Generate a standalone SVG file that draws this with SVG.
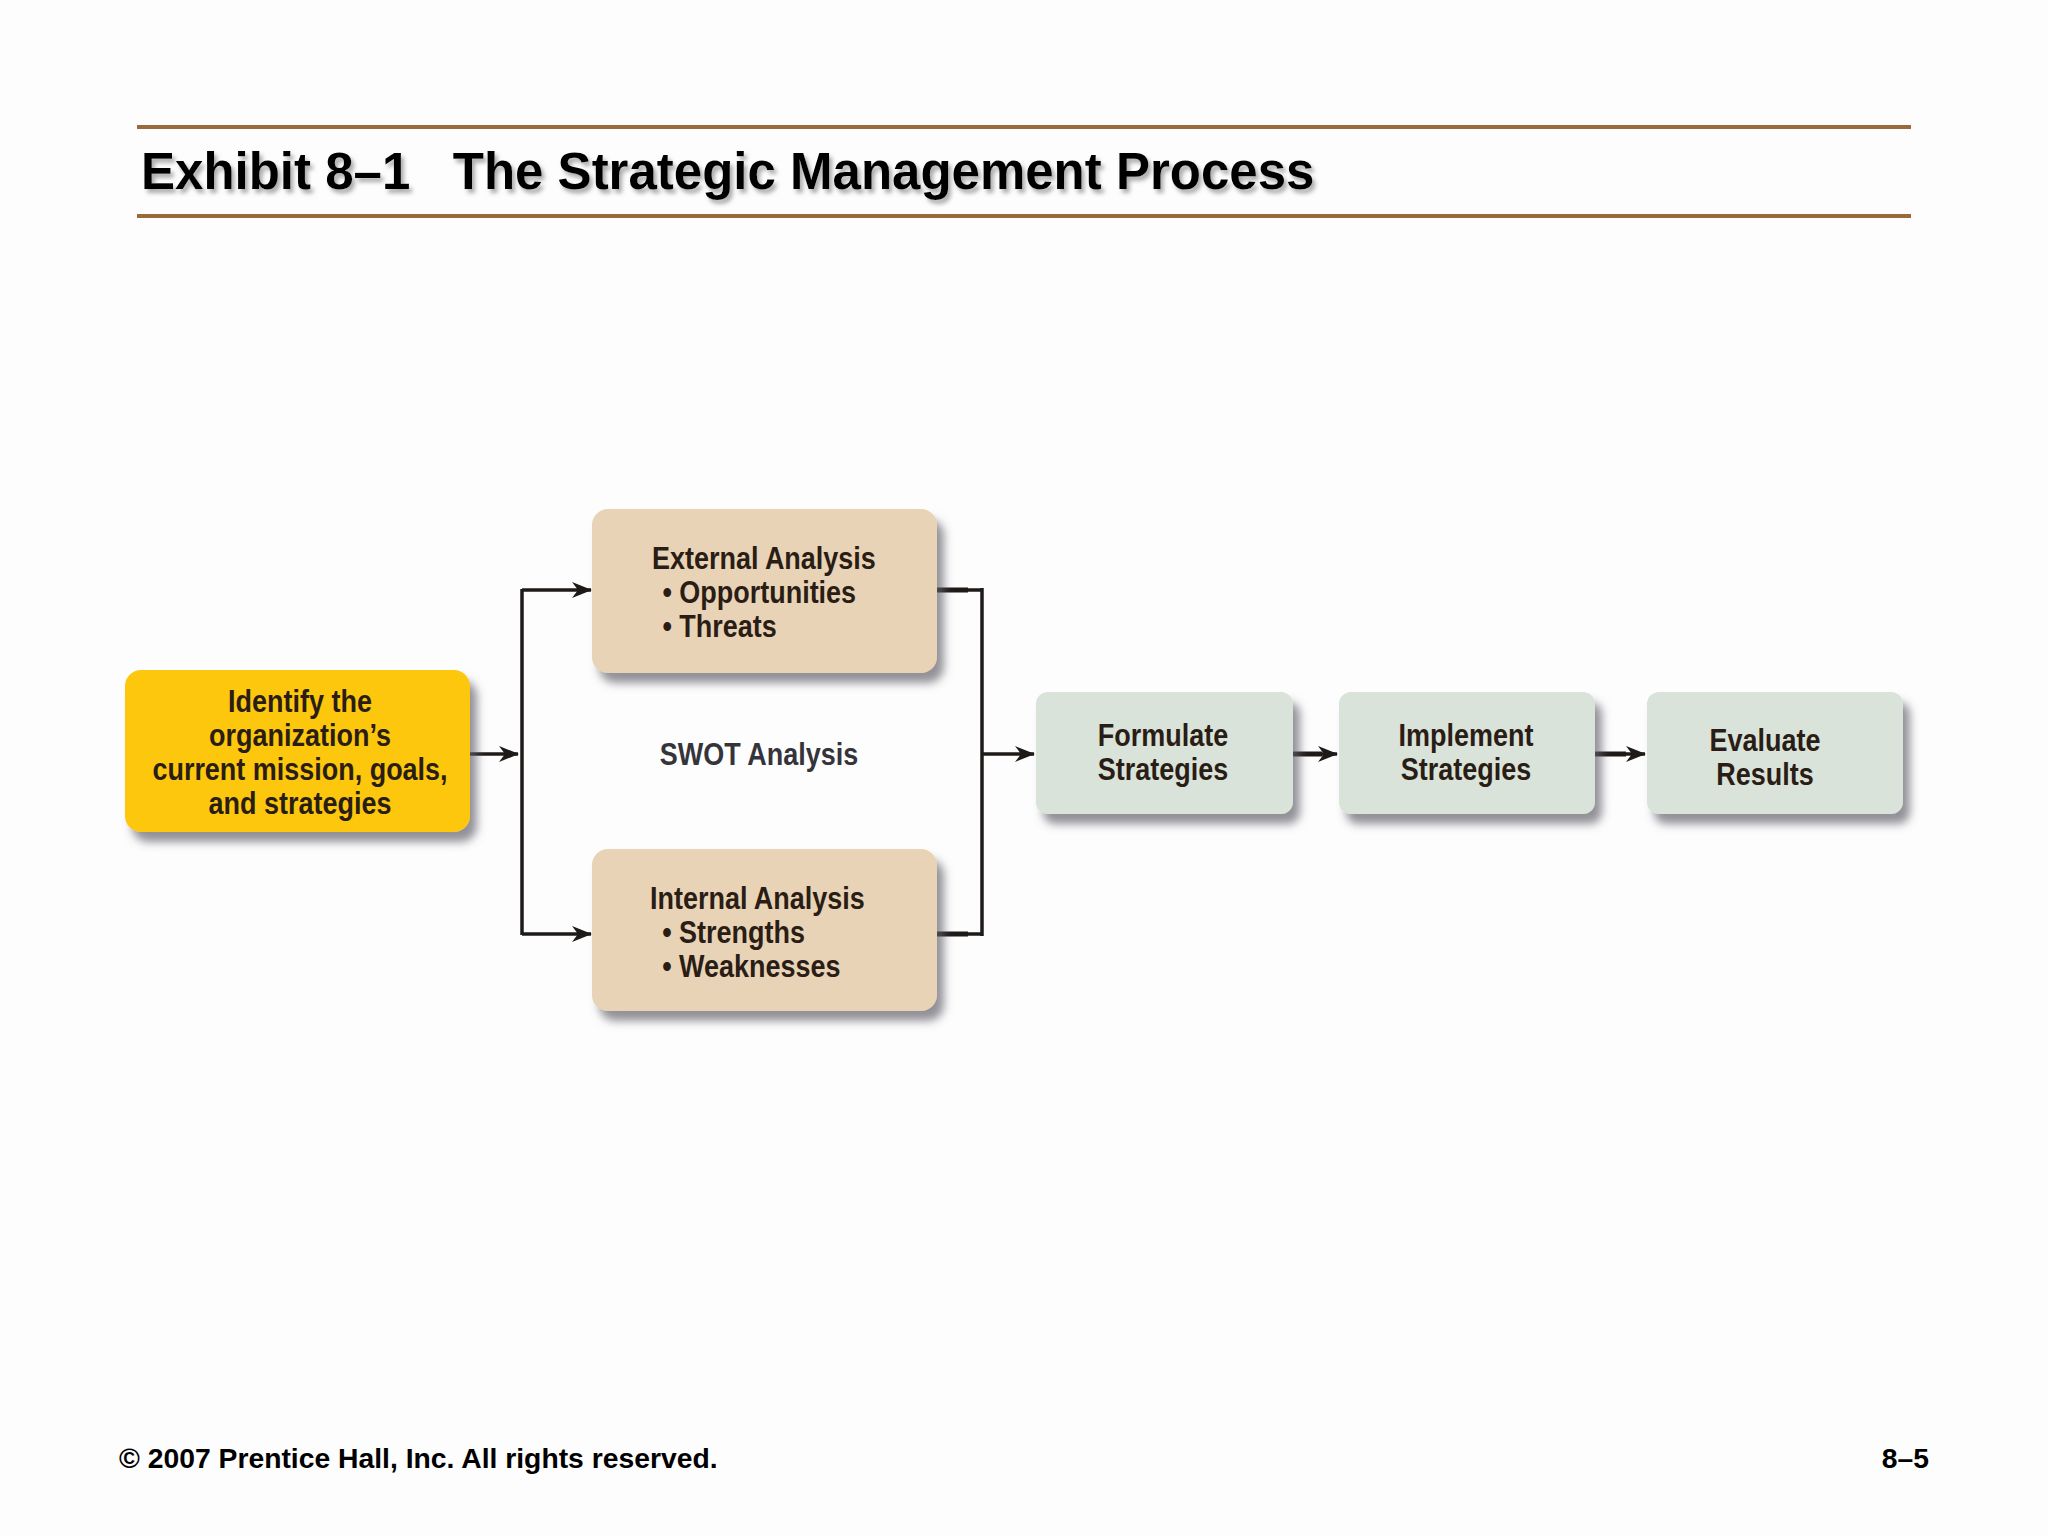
<svg xmlns="http://www.w3.org/2000/svg" width="2048" height="1536" viewBox="0 0 2048 1536">
<defs>
<filter id="shadow" x="-10%" y="-10%" width="130%" height="140%">
<feDropShadow dx="7" dy="10" stdDeviation="5" flood-color="#62626a" flood-opacity="0.7"/>
</filter>
<filter id="tshadow" x="-5%" y="-20%" width="110%" height="160%">
<feDropShadow dx="3" dy="4" stdDeviation="2" flood-color="#888" flood-opacity="0.7"/>
</filter>
<marker id="arr" viewBox="0 0 20 16" refX="19" refY="8" markerWidth="20" markerHeight="16" markerUnits="userSpaceOnUse" orient="auto">
<path d="M0,0 L20,8 L0,16 L6,8 z" fill="#1e1a18"/>
</marker>
<style>
.rule{stroke:#9b6a3a;stroke-width:4;}
.title{font-family:"Liberation Sans",Arial,sans-serif;font-weight:bold;font-size:51px;fill:#000;white-space:pre;}
.foot{font-family:"Liberation Sans",Arial,sans-serif;font-weight:bold;font-size:28.3px;fill:#000;}
.box{filter:url(#shadow);}
.yellow{fill:#fdc70e;}
.tan{fill:#e9d3b6;}
.green{fill:#d9e3d9;}
.lbl{font-family:"Liberation Sans",Arial,sans-serif;font-weight:bold;font-size:31px;fill:#2a1d15;}
.swot{font-family:"Liberation Sans",Arial,sans-serif;font-weight:bold;font-size:31px;fill:#34343a;}
.conn{fill:none;stroke:#1e1a18;stroke-width:3.5;}
.thick{fill:none;stroke:#1e1a18;stroke-width:5;}
</style>
</defs>
<rect width="2048" height="1536" fill="#fefdfe"/>

<g id="header">
<line class="rule" x1="137" y1="127" x2="1911" y2="127"/>
<line class="rule" x1="137" y1="216" x2="1911" y2="216"/>
<text class="title" x="141" y="189" filter="url(#tshadow)">Exhibit 8–1   The Strategic Management Process</text>
</g>

<g id="connectors">
<line class="conn" x1="470" y1="754" x2="518" y2="754" marker-end="url(#arr)"/>
<line class="conn" x1="522" y1="589" x2="522" y2="935"/>
<line class="conn" x1="522" y1="590" x2="591" y2="590" marker-end="url(#arr)"/>
<line class="conn" x1="522" y1="934" x2="591" y2="934" marker-end="url(#arr)"/>
<line class="thick" x1="937" y1="590" x2="968" y2="590"/>
<line class="conn" x1="966" y1="590" x2="982" y2="590"/>
<line class="thick" x1="937" y1="934" x2="968" y2="934"/>
<line class="conn" x1="966" y1="934" x2="982" y2="934"/>
<line class="conn" x1="982" y1="588" x2="982" y2="936"/>
<line class="conn" x1="982" y1="754" x2="1034" y2="754" marker-end="url(#arr)"/>
<line class="thick" x1="1293" y1="754" x2="1322" y2="754"/>
<line class="conn" x1="1316" y1="754" x2="1337" y2="754" marker-end="url(#arr)"/>
<line class="thick" x1="1595" y1="754" x2="1626" y2="754"/>
<line class="conn" x1="1620" y1="754" x2="1645" y2="754" marker-end="url(#arr)"/>
</g>

<g id="node-mission">
<rect class="box yellow" x="125" y="670" width="345" height="162" rx="16"/>
<g transform="translate(300,0) scale(0.87,1)">
<text class="lbl" text-anchor="middle" x="0" y="712">Identify the</text>
<text class="lbl" text-anchor="middle" x="0" y="746">organization’s</text>
<text class="lbl" text-anchor="middle" x="0" y="780">current mission, goals,</text>
<text class="lbl" text-anchor="middle" x="0" y="814">and strategies</text>
</g>
</g>

<g id="node-external">
<rect class="box tan" x="592" y="509" width="345" height="164" rx="16"/>
<g transform="translate(652,0) scale(0.87,1)">
<text class="lbl" x="0" y="569">External Analysis</text>
<text class="lbl" x="12" y="603">• Opportunities</text>
<text class="lbl" x="12" y="637">• Threats</text>
</g>
</g>

<g id="label-swot">
<g transform="translate(759,0) scale(0.87,1)">
<text class="swot" text-anchor="middle" x="0" y="765">SWOT Analysis</text>
</g>
</g>

<g id="node-internal">
<rect class="box tan" x="592" y="849" width="345" height="162" rx="16"/>
<g transform="translate(650,0) scale(0.87,1)">
<text class="lbl" x="0" y="909">Internal Analysis</text>
<text class="lbl" x="14" y="943">• Strengths</text>
<text class="lbl" x="14" y="977">• Weaknesses</text>
</g>
</g>

<g id="node-formulate">
<rect class="box green" x="1036" y="692" width="257" height="122" rx="12"/>
<g transform="translate(1163,0) scale(0.87,1)">
<text class="lbl" text-anchor="middle" x="0" y="746">Formulate</text>
<text class="lbl" text-anchor="middle" x="0" y="780">Strategies</text>
</g>
</g>

<g id="node-implement">
<rect class="box green" x="1339" y="692" width="256" height="122" rx="12"/>
<g transform="translate(1466,0) scale(0.87,1)">
<text class="lbl" text-anchor="middle" x="0" y="746">Implement</text>
<text class="lbl" text-anchor="middle" x="0" y="780">Strategies</text>
</g>
</g>

<g id="node-evaluate">
<rect class="box green" x="1647" y="692" width="256" height="122" rx="12"/>
<g transform="translate(1765,0) scale(0.87,1)">
<text class="lbl" text-anchor="middle" x="0" y="751">Evaluate</text>
<text class="lbl" text-anchor="middle" x="0" y="785">Results</text>
</g>
</g>

<g id="footer">
<text class="foot" x="119" y="1468">© 2007 Prentice Hall, Inc. All rights reserved.</text>
<text class="foot" x="1929" y="1468" text-anchor="end">8–5</text>
</g>
</svg>
